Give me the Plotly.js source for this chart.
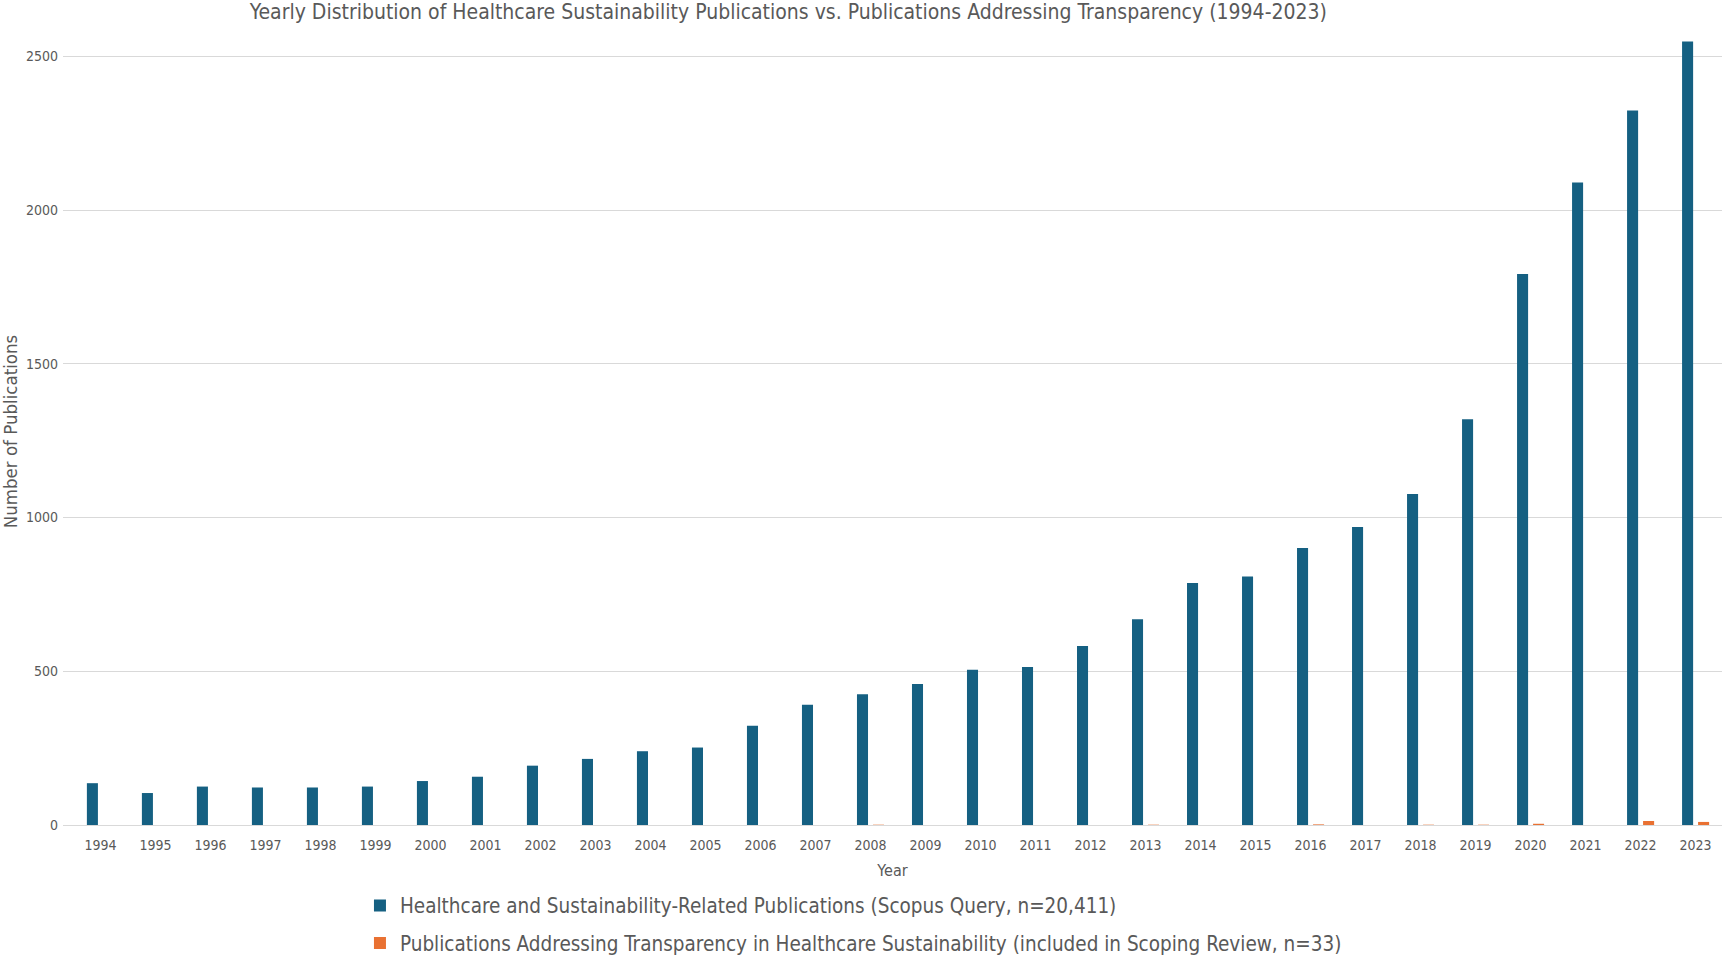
<!DOCTYPE html>
<html>
<head>
<meta charset="utf-8">
<script src="https://cdn.plot.ly/plotly-3.0.1.min.js"></script>
<style>
  html, body { margin: 0; padding: 0; background: #ffffff; }
  #chart { width: 1725px; height: 957px; }
</style>
</head>
<body>
<div id="chart"></div>
<script>
// Publication years
const years = ['1994','1995','1996','1997','1998','1999','2000','2001','2002','2003',
               '2004','2005','2006','2007','2008','2009','2010','2011','2012','2013',
               '2014','2015','2016','2017','2018','2019','2020','2021','2022','2023'];

// Healthcare and sustainability-related publications per year (Scopus query)
const scopusCounts = [136, 104, 125, 122, 122, 125, 143, 157, 193, 215,
                      240, 252, 323, 391, 425, 459, 505, 514, 582, 669,
                      787, 808, 901, 969, 1077, 1320, 1792, 2090, 2324, 2549];

// Publications addressing transparency (included in scoping review)
const reviewCounts = [0, 0, 0, 0, 0, 0, 0, 0, 0, 0,
                      0, 0, 0, 0, 1, 0, 0, 0, 0, 1,
                      0, 0, 2, 0, 1, 1, 4, 0, 13, 10];

const seriesNames = [
  'Healthcare and Sustainability-Related Publications (Scopus Query, n=20,411)',
  'Publications Addressing Transparency in Healthcare Sustainability (included in Scoping Review, n=33)'
];

const FONT = '"Liberation Sans Narrow", "DejaVu Sans Condensed", "Roboto", sans-serif';
const TEXT = '#595959';

const traces = [
  {
    type: 'bar', x: years, y: scopusCounts, name: seriesNames[0],
    marker: { color: '#156082' }, legendgroup: 'a'
  },
  {
    type: 'bar', x: years, y: reviewCounts, name: seriesNames[1],
    marker: { color: '#E97132' }, legendgroup: 'b'
  }
];

const layout = {
  width: 1725, height: 957,
  paper_bgcolor: '#ffffff', plot_bgcolor: '#ffffff',
  font: { family: FONT, color: TEXT },
  margin: { l: 63, r: 3, t: 38, b: 132, autoexpand: false },
  barmode: 'group',
  bargap: 0.418,
  bargroupgap: 0.31,
  title: {
    text: 'Yearly Distribution of Healthcare Sustainability Publications vs. Publications Addressing Transparency (1994-2023)',
    font: { family: FONT, size: 21, color: TEXT },
    x: 0.457, xref: 'container', xanchor: 'center',
    y: 0.988, yref: 'container', yanchor: 'middle'
  },
  xaxis: {
    type: 'category',
    range: [-0.68, 29.48],
    showgrid: false,
    showline: false,
    ticks: '',
    tickangle: 0,
    ticklabelstandoff: 10,
    tickfont: { family: FONT, size: 14, color: TEXT },
    title: { text: 'Year', font: { family: FONT, size: 16, color: TEXT }, standoff: 12 }
  },
  yaxis: {
    range: [0, 2560],
    dtick: 500,
    tick0: 0,
    showgrid: true,
    gridcolor: '#D9D9D9',
    gridwidth: 1,
    zeroline: true,
    zerolinecolor: '#D9D9D9',
    zerolinewidth: 1,
    ticks: '',
    tickfont: { family: FONT, size: 14, color: TEXT },
    ticklabelstandoff: 4,
    title: { text: 'Number of Publications', font: { family: FONT, size: 18.5, color: TEXT }, standoff: 6 }
  },
  showlegend: true,
  legend: {
    orientation: 'v',
    x: 0.179, xanchor: 'left',
    y: -0.077, yanchor: 'top',
    font: { family: FONT, size: 20.5, color: TEXT },
    tracegroupgap: 8,
    itemwidth: 30,
    bgcolor: 'rgba(0,0,0,0)'
  }
};

Plotly.newPlot('chart', traces, layout, { displayModeBar: false, staticPlot: true });
</script>
</body>
</html>
